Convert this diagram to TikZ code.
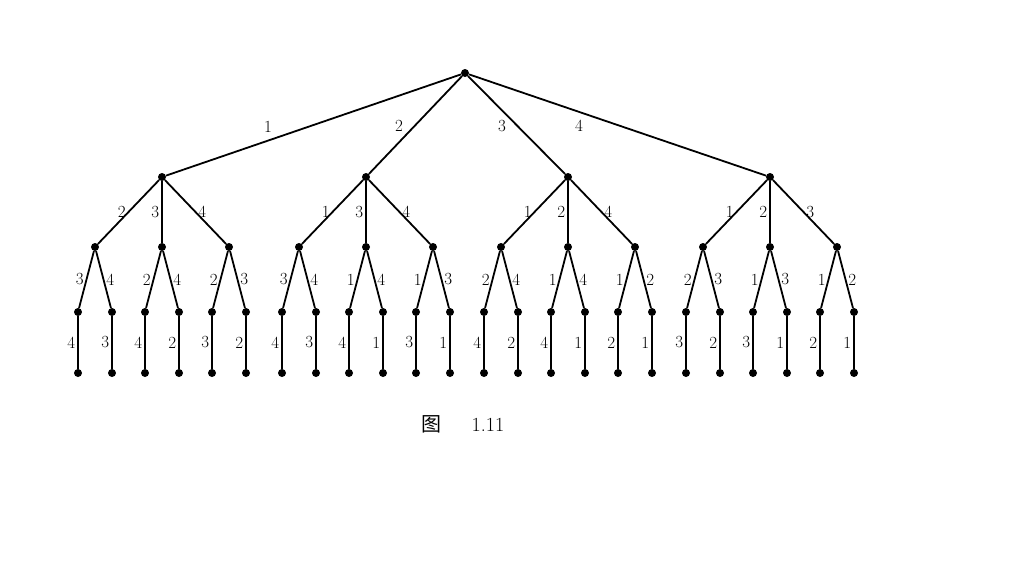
\documentclass[tikz,border=0pt]{standalone}
\usepackage{fontspec}
\newfontfamily\cjk{Noto Sans CJK SC}
\tikzset{
  dot/.style={circle, fill, inner sep=0pt, minimum size=8pt},
  lbl/.style={font=\fontsize{17}{17}\selectfont, inner sep=2pt},
  edge/.style={line width=1.8pt}
}
\begin{document}
\begin{tikzpicture}[x=1pt, y=-1pt]
  \useasboundingbox (0,0) rectangle (1024,576);
  \node[dot] (root) at (465,73) {};
  % first level
  \foreach \a/\xa/\b/\c/\d/\lx/\ly in {1/162/2/3/4/268/127, 2/366/1/3/4/399/126,
                                      3/568/1/2/4/502/126, 4/770/1/2/3/579/126} {
    \node[dot] (n\a) at (\xa,177) {};
    \draw[edge] (root) -- (n\a);
    \node[lbl] (l\a) at (\lx,\ly) {\a};
    % second and third level
    \foreach \p/\q/\r/\dx/\side in {\b/\c/\d/-67/left, \c/\b/\d/0/left, \d/\b/\c/67/right} {
      \node[dot] (n\a\p) at (\xa+\dx,247) {};
      \draw[edge] (n\a) -- node[lbl, \side] {\p} (n\a\p);
      \node[dot] (n\a\p\q) at (\xa+\dx-17,312) {};
      \node[dot] (n\a\p\r) at (\xa+\dx+17,312) {};
      \draw[edge] (n\a\p) -- node[lbl, left] {\q} (n\a\p\q);
      \draw[edge] (n\a\p) -- node[lbl, right] {\r} (n\a\p\r);
      % leaves
      \node[dot] (n\a\p\q\r) at (\xa+\dx-17,373) {};
      \node[dot] (n\a\p\r\q) at (\xa+\dx+17,373) {};
      \draw[edge] (n\a\p\q) -- node[lbl, left] {\r} (n\a\p\q\r);
      \draw[edge] (n\a\p\r) -- node[lbl, left] {\q} (n\a\p\r\q);
    }
  }
  \node[font=\fontsize{20}{20}\selectfont] (cap) at (463,424) {{\cjk 图}\hspace{1.5em}1.11};
\end{tikzpicture}
\end{document}
